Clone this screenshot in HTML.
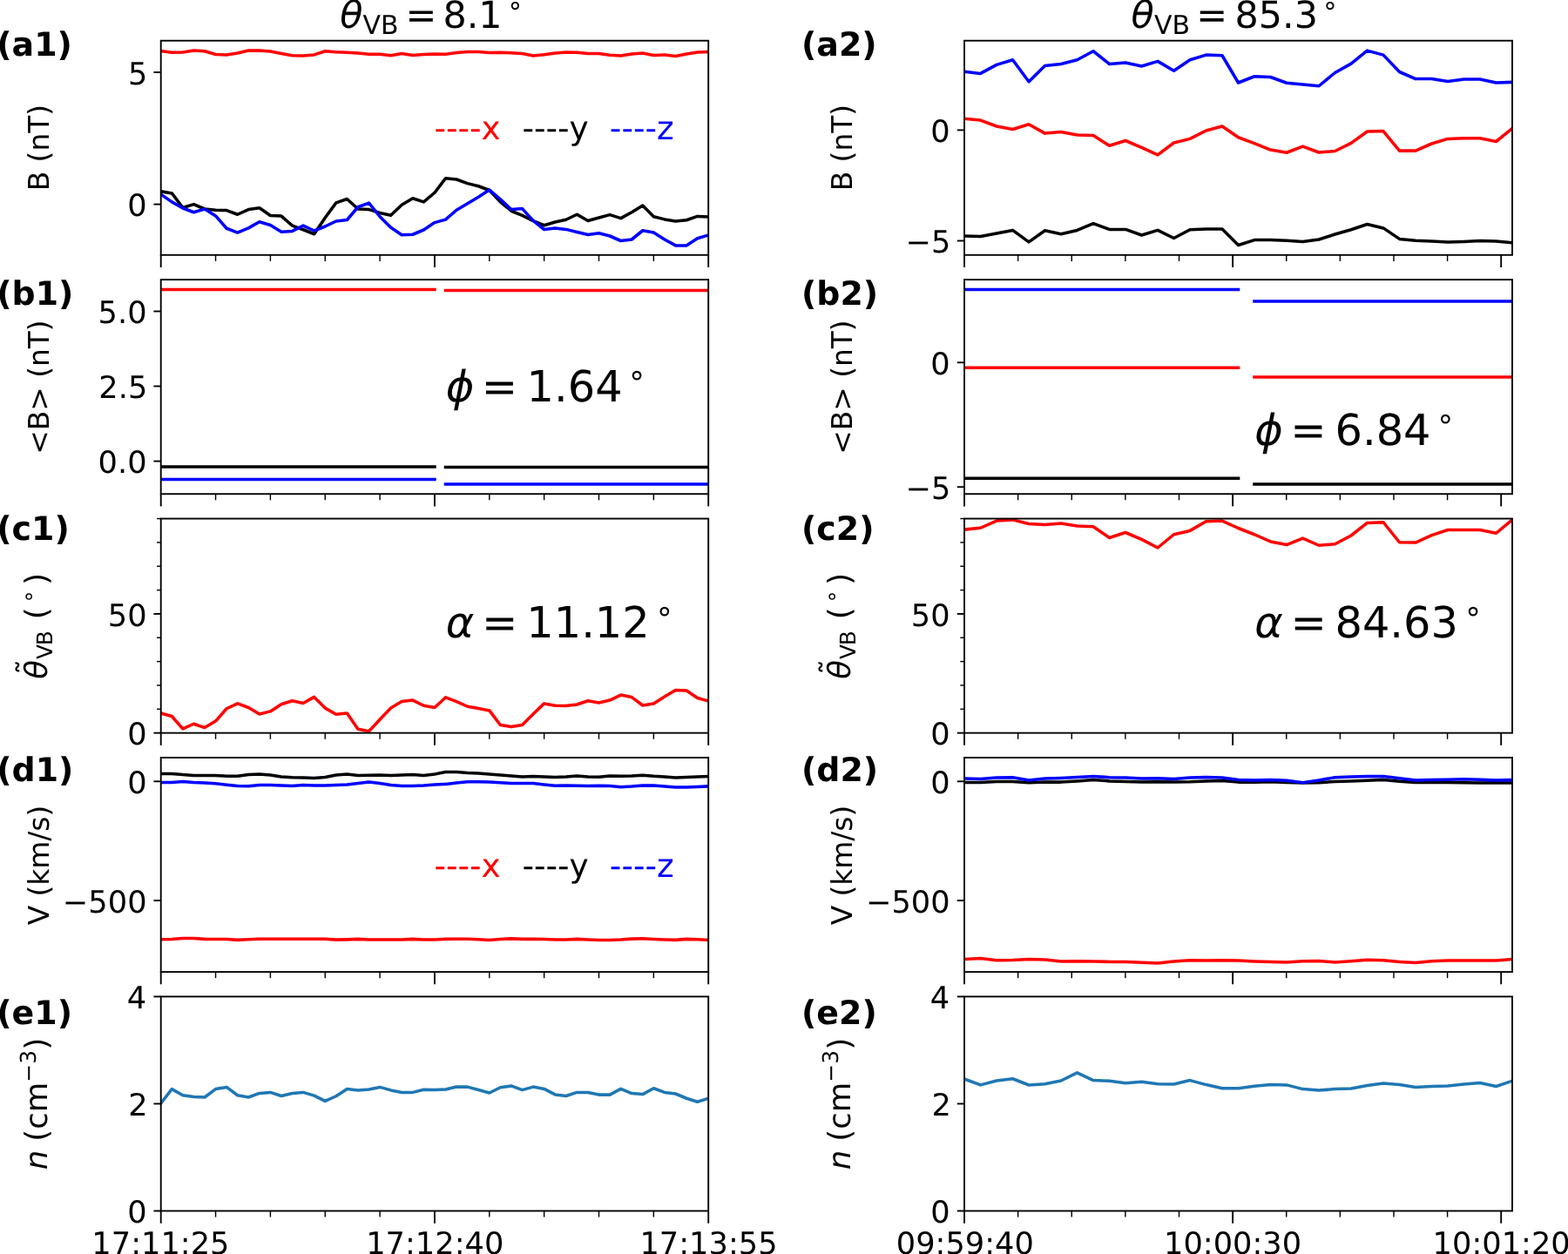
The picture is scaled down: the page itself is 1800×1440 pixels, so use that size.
<!DOCTYPE html>
<html lang="en"><head><meta charset="utf-8"><title>Figure</title>
<style>
html,body{margin:0;padding:0;background:#fff;}
body{width:1800px;height:1440px;overflow:hidden;}
svg{display:block;}
text{white-space:pre;}
</style></head>
<body>
<svg width="1800" height="1440" viewBox="0 0 1800 1440" font-family="'DejaVu Sans', 'Liberation Sans', sans-serif" text-rendering="geometricPrecision">
<rect width="1800" height="1440" fill="#fff"/>
<clipPath id="c1"><rect x="184.7" y="46.7" width="628.5" height="246.1"/></clipPath>
<g clip-path="url(#c1)" fill="none" stroke-width="3.55" stroke-linejoin="round" stroke-linecap="square">
<polyline stroke="#ff0000" points="184.7,58.5 197.27,60.25 209.84,60 222.41,58.1 234.98,58.75 247.55,62.5 260.12,62.9 272.69,61 285.26,58.1 297.83,58.1 310.4,59 322.97,61.5 335.54,63.75 348.11,64.1 360.68,62.9 373.25,58.75 385.82,59.75 398.39,60.2 410.96,61 423.53,62.25 436.1,62.25 448.67,63.75 461.24,61.5 473.81,63.4 486.38,62.5 498.95,62 511.52,62.25 524.09,60.6 536.66,59.5 549.23,59.5 561.8,60.4 574.37,60.25 586.94,60.75 599.51,61.5 612.08,64.1 624.65,62.75 637.22,61 649.79,60 662.36,60.25 674.93,61.5 687.5,61.5 700.07,63.25 712.64,64.1 725.21,61.9 737.78,61 750.35,63.4 762.92,62.9 775.49,64.4 788.06,62 800.63,60 813.2,59.6"/>
<polyline stroke="#000000" points="184.7,219.75 197.27,221.9 209.84,238.5 222.41,234.6 234.98,240 247.55,241.25 260.12,241.6 272.69,246.25 285.26,240.6 297.83,238.75 310.4,247.5 322.97,248.1 335.54,259.1 348.11,263.75 360.68,268.75 373.25,250 385.82,232.9 398.39,228.5 410.96,240 423.53,240.6 436.1,244.4 448.67,247.25 461.24,235.25 473.81,227.75 486.38,231.9 498.95,221.25 511.52,204.75 524.09,206 536.66,210.6 549.23,213.75 561.8,218.5 574.37,231.9 586.94,242.25 599.51,247.4 612.08,253.6 624.65,258.75 637.22,255 649.79,252.25 662.36,246.25 674.93,253.5 687.5,250 700.07,246.6 712.64,250.6 725.21,243.75 737.78,236 750.35,248.75 762.92,251.9 775.49,254.1 788.06,252.75 800.63,248.4 813.2,249"/>
<polyline stroke="#0000ff" points="184.7,223.1 197.27,231.9 209.84,239 222.41,243.75 234.98,240 247.55,247.9 260.12,262.25 272.69,267.1 285.26,261.9 297.83,254.75 310.4,258.5 322.97,266.25 335.54,265.4 348.11,259.1 360.68,265 373.25,260 385.82,254 398.39,252.5 410.96,237.75 423.53,233.1 436.1,248.75 448.67,261.25 461.24,269.75 473.81,269.25 486.38,264 498.95,255.6 511.52,252.1 524.09,241.25 536.66,233.75 549.23,226.25 561.8,218.1 574.37,228.75 586.94,240.6 599.51,239.6 612.08,253.4 624.65,263.5 637.22,261.9 649.79,263.4 662.36,266.5 674.93,269.4 687.5,267.75 700.07,271 712.64,276.5 725.21,275 737.78,264.75 750.35,266.9 762.92,275 775.49,281.9 788.06,281.9 800.63,273.75 813.2,270"/>
</g>
<line x1="184.7" y1="292.8" x2="184.7" y2="307" stroke="#000" stroke-width="1.89" stroke-linecap="butt"/>
<line x1="498.95" y1="292.8" x2="498.95" y2="307" stroke="#000" stroke-width="1.89" stroke-linecap="butt"/>
<line x1="813.2" y1="292.8" x2="813.2" y2="307" stroke="#000" stroke-width="1.89" stroke-linecap="butt"/>
<line x1="247.55" y1="292.8" x2="247.55" y2="299.9" stroke="#000" stroke-width="1.42" stroke-linecap="butt"/>
<line x1="310.4" y1="292.8" x2="310.4" y2="299.9" stroke="#000" stroke-width="1.42" stroke-linecap="butt"/>
<line x1="373.25" y1="292.8" x2="373.25" y2="299.9" stroke="#000" stroke-width="1.42" stroke-linecap="butt"/>
<line x1="436.1" y1="292.8" x2="436.1" y2="299.9" stroke="#000" stroke-width="1.42" stroke-linecap="butt"/>
<line x1="561.8" y1="292.8" x2="561.8" y2="299.9" stroke="#000" stroke-width="1.42" stroke-linecap="butt"/>
<line x1="624.65" y1="292.8" x2="624.65" y2="299.9" stroke="#000" stroke-width="1.42" stroke-linecap="butt"/>
<line x1="687.5" y1="292.8" x2="687.5" y2="299.9" stroke="#000" stroke-width="1.42" stroke-linecap="butt"/>
<line x1="750.35" y1="292.8" x2="750.35" y2="299.9" stroke="#000" stroke-width="1.42" stroke-linecap="butt"/>
<line x1="184.7" y1="83" x2="176.42" y2="83" stroke="#000" stroke-width="1.89" stroke-linecap="butt"/>
<line x1="184.7" y1="234.6" x2="176.42" y2="234.6" stroke="#000" stroke-width="1.89" stroke-linecap="butt"/>
<rect x="184.7" y="46.7" width="628.5" height="246.1" fill="none" stroke="#000" stroke-width="1.89"/>
<text fill="#000"><tspan font-weight="normal" font-style="normal" font-size="35.2" x="146.88" y="96.8">5</tspan></text>
<text fill="#000"><tspan font-weight="normal" font-style="normal" font-size="35.2" x="146.14" y="248.4">0</tspan></text>
<clipPath id="c2"><rect x="1107.05" y="46.7" width="628.95" height="246.1"/></clipPath>
<g clip-path="url(#c2)" fill="none" stroke-width="3.55" stroke-linejoin="round" stroke-linecap="square">
<polyline stroke="#ff0000" points="1107.05,136.25 1125.55,138.1 1144.05,145 1162.55,148.5 1181.04,142.75 1199.54,153.1 1218.04,151.5 1236.54,155 1255.04,155.6 1273.54,167.25 1292.04,161.5 1310.53,169.4 1329.03,177.9 1347.53,164 1366.03,159.4 1384.53,150 1403.03,145 1421.53,157.75 1440.02,164.6 1458.52,172.1 1477.02,175.25 1495.52,168.1 1514.02,175 1532.52,173.5 1551.01,164.4 1569.51,151 1588.01,150.6 1606.51,173.1 1625.01,173.1 1643.51,165 1662.01,159.4 1680.5,158.75 1699,158.75 1717.5,162.5 1736,147.5"/>
<polyline stroke="#000000" points="1107.05,271 1125.55,271.6 1144.05,267.9 1162.55,264.4 1181.04,277.9 1199.54,264.75 1218.04,268.75 1236.54,264.4 1255.04,256.6 1273.54,263.4 1292.04,263.4 1310.53,270 1329.03,264.4 1347.53,273.5 1366.03,263.75 1384.53,262.9 1403.03,263.1 1421.53,281.5 1440.02,275.6 1458.52,275.4 1477.02,276.25 1495.52,277.5 1514.02,275 1532.52,269 1551.01,263.75 1569.51,257.5 1588.01,261.9 1606.51,274.4 1625.01,276.25 1643.51,277.1 1662.01,278.1 1680.5,277.5 1699,276.6 1717.5,277.1 1736,278.75"/>
<polyline stroke="#0000ff" points="1107.05,82.25 1125.55,84.4 1144.05,74.4 1162.55,68.75 1181.04,93.75 1199.54,75.6 1218.04,73.5 1236.54,68.75 1255.04,58.75 1273.54,73.5 1292.04,71.9 1310.53,76 1329.03,70.4 1347.53,81.25 1366.03,68.75 1384.53,63.1 1403.03,63.75 1421.53,95 1440.02,87.75 1458.52,88.5 1477.02,95.25 1495.52,96.9 1514.02,98.75 1532.52,83.5 1551.01,73.1 1569.51,58.1 1588.01,63.1 1606.51,82.5 1625.01,90.6 1643.51,90.4 1662.01,93.5 1680.5,91 1699,91 1717.5,95 1736,94.4"/>
</g>
<line x1="1107.05" y1="292.8" x2="1107.05" y2="307" stroke="#000" stroke-width="1.89" stroke-linecap="butt"/>
<line x1="1415.12" y1="292.8" x2="1415.12" y2="307" stroke="#000" stroke-width="1.89" stroke-linecap="butt"/>
<line x1="1723.2" y1="292.8" x2="1723.2" y2="307" stroke="#000" stroke-width="1.89" stroke-linecap="butt"/>
<line x1="1168.66" y1="292.8" x2="1168.66" y2="299.9" stroke="#000" stroke-width="1.42" stroke-linecap="butt"/>
<line x1="1230.28" y1="292.8" x2="1230.28" y2="299.9" stroke="#000" stroke-width="1.42" stroke-linecap="butt"/>
<line x1="1291.89" y1="292.8" x2="1291.89" y2="299.9" stroke="#000" stroke-width="1.42" stroke-linecap="butt"/>
<line x1="1353.51" y1="292.8" x2="1353.51" y2="299.9" stroke="#000" stroke-width="1.42" stroke-linecap="butt"/>
<line x1="1476.74" y1="292.8" x2="1476.74" y2="299.9" stroke="#000" stroke-width="1.42" stroke-linecap="butt"/>
<line x1="1538.36" y1="292.8" x2="1538.36" y2="299.9" stroke="#000" stroke-width="1.42" stroke-linecap="butt"/>
<line x1="1599.97" y1="292.8" x2="1599.97" y2="299.9" stroke="#000" stroke-width="1.42" stroke-linecap="butt"/>
<line x1="1661.59" y1="292.8" x2="1661.59" y2="299.9" stroke="#000" stroke-width="1.42" stroke-linecap="butt"/>
<line x1="1107.05" y1="149.4" x2="1098.77" y2="149.4" stroke="#000" stroke-width="1.89" stroke-linecap="butt"/>
<line x1="1107.05" y1="276.5" x2="1098.77" y2="276.5" stroke="#000" stroke-width="1.89" stroke-linecap="butt"/>
<rect x="1107.05" y="46.7" width="628.95" height="246.1" fill="none" stroke="#000" stroke-width="1.89"/>
<text fill="#000"><tspan font-weight="normal" font-style="normal" font-size="35.2" x="1068.19" y="163.2">0</tspan></text>
<text fill="#000"><tspan font-weight="normal" font-style="normal" font-size="35.2" x="1039.44 1068.93" y="290.3">−5</tspan></text>
<clipPath id="c3"><rect x="184.7" y="321.13" width="628.5" height="246.1"/></clipPath>
<g clip-path="url(#c3)" fill="none" stroke-width="3.55" stroke-linejoin="round" stroke-linecap="square">
<polyline stroke="#ff0000" points="184.7,332.4 498.95,332.4"/>
<polyline stroke="#ff0000" points="511.52,333.4 813.2,333.4"/>
<polyline stroke="#000000" points="184.7,536 498.95,536"/>
<polyline stroke="#000000" points="511.52,536.4 813.2,536.4"/>
<polyline stroke="#0000ff" points="184.7,550.5 498.95,550.5"/>
<polyline stroke="#0000ff" points="511.52,556 813.2,556"/>
</g>
<line x1="184.7" y1="567.23" x2="184.7" y2="581.43" stroke="#000" stroke-width="1.89" stroke-linecap="butt"/>
<line x1="498.95" y1="567.23" x2="498.95" y2="581.43" stroke="#000" stroke-width="1.89" stroke-linecap="butt"/>
<line x1="813.2" y1="567.23" x2="813.2" y2="581.43" stroke="#000" stroke-width="1.89" stroke-linecap="butt"/>
<line x1="247.55" y1="567.23" x2="247.55" y2="574.33" stroke="#000" stroke-width="1.42" stroke-linecap="butt"/>
<line x1="310.4" y1="567.23" x2="310.4" y2="574.33" stroke="#000" stroke-width="1.42" stroke-linecap="butt"/>
<line x1="373.25" y1="567.23" x2="373.25" y2="574.33" stroke="#000" stroke-width="1.42" stroke-linecap="butt"/>
<line x1="436.1" y1="567.23" x2="436.1" y2="574.33" stroke="#000" stroke-width="1.42" stroke-linecap="butt"/>
<line x1="561.8" y1="567.23" x2="561.8" y2="574.33" stroke="#000" stroke-width="1.42" stroke-linecap="butt"/>
<line x1="624.65" y1="567.23" x2="624.65" y2="574.33" stroke="#000" stroke-width="1.42" stroke-linecap="butt"/>
<line x1="687.5" y1="567.23" x2="687.5" y2="574.33" stroke="#000" stroke-width="1.42" stroke-linecap="butt"/>
<line x1="750.35" y1="567.23" x2="750.35" y2="574.33" stroke="#000" stroke-width="1.42" stroke-linecap="butt"/>
<line x1="184.7" y1="357.5" x2="176.42" y2="357.5" stroke="#000" stroke-width="1.89" stroke-linecap="butt"/>
<line x1="184.7" y1="443.5" x2="176.42" y2="443.5" stroke="#000" stroke-width="1.89" stroke-linecap="butt"/>
<line x1="184.7" y1="529.6" x2="176.42" y2="529.6" stroke="#000" stroke-width="1.89" stroke-linecap="butt"/>
<rect x="184.7" y="321.13" width="628.5" height="246.1" fill="none" stroke="#000" stroke-width="1.89"/>
<text fill="#000"><tspan font-weight="normal" font-style="normal" font-size="35.2" x="112.56 134.95 146.14" y="371.3">5.0</tspan></text>
<text fill="#000"><tspan font-weight="normal" font-style="normal" font-size="35.2" x="113.3 135.69 146.88" y="457.3">2.5</tspan></text>
<text fill="#000"><tspan font-weight="normal" font-style="normal" font-size="35.2" x="112.56 134.95 146.14" y="543.4">0.0</tspan></text>
<clipPath id="c4"><rect x="1107.05" y="321.13" width="628.95" height="246.1"/></clipPath>
<g clip-path="url(#c4)" fill="none" stroke-width="3.55" stroke-linejoin="round" stroke-linecap="square">
<polyline stroke="#ff0000" points="1107.05,422.3 1421.53,422.3"/>
<polyline stroke="#ff0000" points="1440.02,433 1736,433"/>
<polyline stroke="#000000" points="1107.05,549.3 1421.53,549.3"/>
<polyline stroke="#000000" points="1440.02,556 1736,556"/>
<polyline stroke="#0000ff" points="1107.05,332.4 1421.53,332.4"/>
<polyline stroke="#0000ff" points="1440.02,346 1736,346"/>
</g>
<line x1="1107.05" y1="567.23" x2="1107.05" y2="581.43" stroke="#000" stroke-width="1.89" stroke-linecap="butt"/>
<line x1="1415.12" y1="567.23" x2="1415.12" y2="581.43" stroke="#000" stroke-width="1.89" stroke-linecap="butt"/>
<line x1="1723.2" y1="567.23" x2="1723.2" y2="581.43" stroke="#000" stroke-width="1.89" stroke-linecap="butt"/>
<line x1="1168.66" y1="567.23" x2="1168.66" y2="574.33" stroke="#000" stroke-width="1.42" stroke-linecap="butt"/>
<line x1="1230.28" y1="567.23" x2="1230.28" y2="574.33" stroke="#000" stroke-width="1.42" stroke-linecap="butt"/>
<line x1="1291.89" y1="567.23" x2="1291.89" y2="574.33" stroke="#000" stroke-width="1.42" stroke-linecap="butt"/>
<line x1="1353.51" y1="567.23" x2="1353.51" y2="574.33" stroke="#000" stroke-width="1.42" stroke-linecap="butt"/>
<line x1="1476.74" y1="567.23" x2="1476.74" y2="574.33" stroke="#000" stroke-width="1.42" stroke-linecap="butt"/>
<line x1="1538.36" y1="567.23" x2="1538.36" y2="574.33" stroke="#000" stroke-width="1.42" stroke-linecap="butt"/>
<line x1="1599.97" y1="567.23" x2="1599.97" y2="574.33" stroke="#000" stroke-width="1.42" stroke-linecap="butt"/>
<line x1="1661.59" y1="567.23" x2="1661.59" y2="574.33" stroke="#000" stroke-width="1.42" stroke-linecap="butt"/>
<line x1="1107.05" y1="416.3" x2="1098.77" y2="416.3" stroke="#000" stroke-width="1.89" stroke-linecap="butt"/>
<line x1="1107.05" y1="559.2" x2="1098.77" y2="559.2" stroke="#000" stroke-width="1.89" stroke-linecap="butt"/>
<rect x="1107.05" y="321.13" width="628.95" height="246.1" fill="none" stroke="#000" stroke-width="1.89"/>
<text fill="#000"><tspan font-weight="normal" font-style="normal" font-size="35.2" x="1068.19" y="430.1">0</tspan></text>
<text fill="#000"><tspan font-weight="normal" font-style="normal" font-size="35.2" x="1039.44 1068.93" y="573">−5</tspan></text>
<clipPath id="c5"><rect x="184.7" y="595.56" width="628.5" height="246.1"/></clipPath>
<g clip-path="url(#c5)" fill="none" stroke-width="3.55" stroke-linejoin="round" stroke-linecap="square">
<polyline stroke="#ff0000" points="184.7,819 197.27,822.5 209.84,836.9 222.41,831.25 234.98,835.6 247.55,828.1 260.12,813.75 272.69,807.9 285.26,812.5 297.83,820 310.4,816.9 322.97,808.75 335.54,804.75 348.11,807.5 360.68,800.4 373.25,813.1 385.82,820.25 398.39,819 410.96,837.25 423.53,839.75 436.1,826.25 448.67,813.1 461.24,805.6 473.81,804.1 486.38,810.25 498.95,812.5 511.52,800.9 524.09,805.6 536.66,811.25 549.23,813.5 561.8,815.9 574.37,832.5 586.94,834.6 599.51,832.5 612.08,820 624.65,807.9 637.22,810.25 649.79,810.6 662.36,809 674.93,804.75 687.5,806.9 700.07,804.1 712.64,798.1 725.21,800.6 737.78,810 750.35,807.9 762.92,800 775.49,792.5 788.06,793.1 800.63,801.5 813.2,805"/>
</g>
<line x1="184.7" y1="841.66" x2="184.7" y2="855.86" stroke="#000" stroke-width="1.89" stroke-linecap="butt"/>
<line x1="498.95" y1="841.66" x2="498.95" y2="855.86" stroke="#000" stroke-width="1.89" stroke-linecap="butt"/>
<line x1="813.2" y1="841.66" x2="813.2" y2="855.86" stroke="#000" stroke-width="1.89" stroke-linecap="butt"/>
<line x1="247.55" y1="841.66" x2="247.55" y2="848.76" stroke="#000" stroke-width="1.42" stroke-linecap="butt"/>
<line x1="310.4" y1="841.66" x2="310.4" y2="848.76" stroke="#000" stroke-width="1.42" stroke-linecap="butt"/>
<line x1="373.25" y1="841.66" x2="373.25" y2="848.76" stroke="#000" stroke-width="1.42" stroke-linecap="butt"/>
<line x1="436.1" y1="841.66" x2="436.1" y2="848.76" stroke="#000" stroke-width="1.42" stroke-linecap="butt"/>
<line x1="561.8" y1="841.66" x2="561.8" y2="848.76" stroke="#000" stroke-width="1.42" stroke-linecap="butt"/>
<line x1="624.65" y1="841.66" x2="624.65" y2="848.76" stroke="#000" stroke-width="1.42" stroke-linecap="butt"/>
<line x1="687.5" y1="841.66" x2="687.5" y2="848.76" stroke="#000" stroke-width="1.42" stroke-linecap="butt"/>
<line x1="750.35" y1="841.66" x2="750.35" y2="848.76" stroke="#000" stroke-width="1.42" stroke-linecap="butt"/>
<line x1="184.7" y1="704.94" x2="176.42" y2="704.94" stroke="#000" stroke-width="1.89" stroke-linecap="butt"/>
<line x1="184.7" y1="841.66" x2="176.42" y2="841.66" stroke="#000" stroke-width="1.89" stroke-linecap="butt"/>
<line x1="184.7" y1="814.32" x2="179.97" y2="814.32" stroke="#000" stroke-width="1.42" stroke-linecap="butt"/>
<line x1="184.7" y1="786.97" x2="179.97" y2="786.97" stroke="#000" stroke-width="1.42" stroke-linecap="butt"/>
<line x1="184.7" y1="759.63" x2="179.97" y2="759.63" stroke="#000" stroke-width="1.42" stroke-linecap="butt"/>
<line x1="184.7" y1="732.28" x2="179.97" y2="732.28" stroke="#000" stroke-width="1.42" stroke-linecap="butt"/>
<line x1="184.7" y1="677.59" x2="179.97" y2="677.59" stroke="#000" stroke-width="1.42" stroke-linecap="butt"/>
<line x1="184.7" y1="650.25" x2="179.97" y2="650.25" stroke="#000" stroke-width="1.42" stroke-linecap="butt"/>
<line x1="184.7" y1="622.9" x2="179.97" y2="622.9" stroke="#000" stroke-width="1.42" stroke-linecap="butt"/>
<line x1="184.7" y1="595.56" x2="179.97" y2="595.56" stroke="#000" stroke-width="1.42" stroke-linecap="butt"/>
<rect x="184.7" y="595.56" width="628.5" height="246.1" fill="none" stroke="#000" stroke-width="1.89"/>
<text fill="#000"><tspan font-weight="normal" font-style="normal" font-size="35.2" x="123.75 146.14" y="718.74">50</tspan></text>
<text fill="#000"><tspan font-weight="normal" font-style="normal" font-size="35.2" x="146.14" y="855.46">0</tspan></text>
<clipPath id="c6"><rect x="1107.05" y="595.56" width="628.95" height="246.1"/></clipPath>
<g clip-path="url(#c6)" fill="none" stroke-width="3.55" stroke-linejoin="round" stroke-linecap="square">
<polyline stroke="#ff0000" points="1107.05,608.1 1125.55,606.25 1144.05,598.1 1162.55,596.9 1181.04,601.5 1199.54,602.5 1218.04,601 1236.54,604.1 1255.04,604.75 1273.54,617.5 1292.04,611.5 1310.53,619.4 1329.03,629 1347.53,613.75 1366.03,609.4 1384.53,598.75 1403.03,598.1 1421.53,606.5 1440.02,613.75 1458.52,621.9 1477.02,625.6 1495.52,618.1 1514.02,626.25 1532.52,624.75 1551.01,615 1569.51,600.4 1588.01,599.75 1606.51,622.75 1625.01,623.1 1643.51,614.6 1662.01,608.5 1680.5,608.4 1699,608.4 1717.5,612.25 1736,596.9"/>
</g>
<line x1="1107.05" y1="841.66" x2="1107.05" y2="855.86" stroke="#000" stroke-width="1.89" stroke-linecap="butt"/>
<line x1="1415.12" y1="841.66" x2="1415.12" y2="855.86" stroke="#000" stroke-width="1.89" stroke-linecap="butt"/>
<line x1="1723.2" y1="841.66" x2="1723.2" y2="855.86" stroke="#000" stroke-width="1.89" stroke-linecap="butt"/>
<line x1="1168.66" y1="841.66" x2="1168.66" y2="848.76" stroke="#000" stroke-width="1.42" stroke-linecap="butt"/>
<line x1="1230.28" y1="841.66" x2="1230.28" y2="848.76" stroke="#000" stroke-width="1.42" stroke-linecap="butt"/>
<line x1="1291.89" y1="841.66" x2="1291.89" y2="848.76" stroke="#000" stroke-width="1.42" stroke-linecap="butt"/>
<line x1="1353.51" y1="841.66" x2="1353.51" y2="848.76" stroke="#000" stroke-width="1.42" stroke-linecap="butt"/>
<line x1="1476.74" y1="841.66" x2="1476.74" y2="848.76" stroke="#000" stroke-width="1.42" stroke-linecap="butt"/>
<line x1="1538.36" y1="841.66" x2="1538.36" y2="848.76" stroke="#000" stroke-width="1.42" stroke-linecap="butt"/>
<line x1="1599.97" y1="841.66" x2="1599.97" y2="848.76" stroke="#000" stroke-width="1.42" stroke-linecap="butt"/>
<line x1="1661.59" y1="841.66" x2="1661.59" y2="848.76" stroke="#000" stroke-width="1.42" stroke-linecap="butt"/>
<line x1="1107.05" y1="704.94" x2="1098.77" y2="704.94" stroke="#000" stroke-width="1.89" stroke-linecap="butt"/>
<line x1="1107.05" y1="841.66" x2="1098.77" y2="841.66" stroke="#000" stroke-width="1.89" stroke-linecap="butt"/>
<line x1="1107.05" y1="814.32" x2="1102.32" y2="814.32" stroke="#000" stroke-width="1.42" stroke-linecap="butt"/>
<line x1="1107.05" y1="786.97" x2="1102.32" y2="786.97" stroke="#000" stroke-width="1.42" stroke-linecap="butt"/>
<line x1="1107.05" y1="759.63" x2="1102.32" y2="759.63" stroke="#000" stroke-width="1.42" stroke-linecap="butt"/>
<line x1="1107.05" y1="732.28" x2="1102.32" y2="732.28" stroke="#000" stroke-width="1.42" stroke-linecap="butt"/>
<line x1="1107.05" y1="677.59" x2="1102.32" y2="677.59" stroke="#000" stroke-width="1.42" stroke-linecap="butt"/>
<line x1="1107.05" y1="650.25" x2="1102.32" y2="650.25" stroke="#000" stroke-width="1.42" stroke-linecap="butt"/>
<line x1="1107.05" y1="622.9" x2="1102.32" y2="622.9" stroke="#000" stroke-width="1.42" stroke-linecap="butt"/>
<line x1="1107.05" y1="595.56" x2="1102.32" y2="595.56" stroke="#000" stroke-width="1.42" stroke-linecap="butt"/>
<rect x="1107.05" y="595.56" width="628.95" height="246.1" fill="none" stroke="#000" stroke-width="1.89"/>
<text fill="#000"><tspan font-weight="normal" font-style="normal" font-size="35.2" x="1045.8 1068.19" y="718.74">50</tspan></text>
<text fill="#000"><tspan font-weight="normal" font-style="normal" font-size="35.2" x="1068.19" y="855.46">0</tspan></text>
<clipPath id="c7"><rect x="184.7" y="869.99" width="628.5" height="246.1"/></clipPath>
<g clip-path="url(#c7)" fill="none" stroke-width="3.55" stroke-linejoin="round" stroke-linecap="square">
<polyline stroke="#ff0000" points="184.7,1078.75 197.27,1078.5 209.84,1077.5 222.41,1077.5 234.98,1078.38 247.55,1078.5 260.12,1078.5 272.69,1079.38 285.26,1078.75 297.83,1078.25 310.4,1078.25 322.97,1078.25 335.54,1078.25 348.11,1078.25 360.68,1078.25 373.25,1078.25 385.82,1079.12 398.39,1078.88 410.96,1078.38 423.53,1079 436.1,1079 448.67,1079 461.24,1079 473.81,1078.38 486.38,1079 498.95,1079 511.52,1078.38 524.09,1078.25 536.66,1078.25 549.23,1078.75 561.8,1079.5 574.37,1078.5 586.94,1077.88 599.51,1078.38 612.08,1078.38 624.65,1078.5 637.22,1079 649.79,1079 662.36,1078.38 674.93,1079 687.5,1079.5 700.07,1079.5 712.64,1079 725.21,1078.12 737.78,1077.75 750.35,1078.5 762.92,1079 775.49,1079.38 788.06,1078.38 800.63,1078.75 813.2,1079.38"/>
<polyline stroke="#000000" points="184.7,888.5 197.27,888.5 209.84,889.6 222.41,890.4 234.98,890.4 247.55,890.4 260.12,891.25 272.69,891.25 285.26,889.4 297.83,889.1 310.4,890 322.97,891.9 335.54,892.75 348.11,893.1 360.68,893.4 373.25,892.5 385.82,890 398.39,889.1 410.96,890.4 423.53,890.25 436.1,890 448.67,890.6 461.24,890 473.81,889.6 486.38,890.4 498.95,889 511.52,886.5 524.09,886.6 536.66,887.5 549.23,887.9 561.8,889 574.37,890 586.94,891 599.51,891.9 612.08,891.6 624.65,892.1 637.22,892.5 649.79,891.9 662.36,891 674.93,891.9 687.5,892.25 700.07,891 712.64,891.25 725.21,891 737.78,890.25 750.35,891.25 762.92,891.9 775.49,892.9 788.06,892.5 800.63,891.9 813.2,891.6"/>
<polyline stroke="#0000ff" points="184.7,898.5 197.27,898.5 209.84,897.5 222.41,898.5 234.98,899.1 247.55,899.75 260.12,901.25 272.69,902.5 285.26,902.75 297.83,901.5 310.4,901.5 322.97,901.9 335.54,902.5 348.11,901.5 360.68,901.9 373.25,901.9 385.82,901.5 398.39,900.9 410.96,899.4 423.53,897.9 436.1,899.4 448.67,901.5 461.24,902.5 473.81,902.5 486.38,901.9 498.95,901 511.52,900.4 524.09,899 536.66,897.75 549.23,897.75 561.8,898.1 574.37,898.75 586.94,899.4 599.51,899.6 612.08,899.4 624.65,900.9 637.22,902.25 649.79,901.9 662.36,902.25 674.93,902.5 687.5,902.25 700.07,902.5 712.64,903.75 725.21,903.1 737.78,902.1 750.35,902.1 762.92,903.1 775.49,904 788.06,904.1 800.63,903.4 813.2,902.9"/>
</g>
<line x1="184.7" y1="1116.09" x2="184.7" y2="1130.29" stroke="#000" stroke-width="1.89" stroke-linecap="butt"/>
<line x1="498.95" y1="1116.09" x2="498.95" y2="1130.29" stroke="#000" stroke-width="1.89" stroke-linecap="butt"/>
<line x1="813.2" y1="1116.09" x2="813.2" y2="1130.29" stroke="#000" stroke-width="1.89" stroke-linecap="butt"/>
<line x1="247.55" y1="1116.09" x2="247.55" y2="1123.19" stroke="#000" stroke-width="1.42" stroke-linecap="butt"/>
<line x1="310.4" y1="1116.09" x2="310.4" y2="1123.19" stroke="#000" stroke-width="1.42" stroke-linecap="butt"/>
<line x1="373.25" y1="1116.09" x2="373.25" y2="1123.19" stroke="#000" stroke-width="1.42" stroke-linecap="butt"/>
<line x1="436.1" y1="1116.09" x2="436.1" y2="1123.19" stroke="#000" stroke-width="1.42" stroke-linecap="butt"/>
<line x1="561.8" y1="1116.09" x2="561.8" y2="1123.19" stroke="#000" stroke-width="1.42" stroke-linecap="butt"/>
<line x1="624.65" y1="1116.09" x2="624.65" y2="1123.19" stroke="#000" stroke-width="1.42" stroke-linecap="butt"/>
<line x1="687.5" y1="1116.09" x2="687.5" y2="1123.19" stroke="#000" stroke-width="1.42" stroke-linecap="butt"/>
<line x1="750.35" y1="1116.09" x2="750.35" y2="1123.19" stroke="#000" stroke-width="1.42" stroke-linecap="butt"/>
<line x1="184.7" y1="897.3" x2="176.42" y2="897.3" stroke="#000" stroke-width="1.89" stroke-linecap="butt"/>
<line x1="184.7" y1="1034.1" x2="176.42" y2="1034.1" stroke="#000" stroke-width="1.89" stroke-linecap="butt"/>
<rect x="184.7" y="869.99" width="628.5" height="246.1" fill="none" stroke="#000" stroke-width="1.89"/>
<text fill="#000"><tspan font-weight="normal" font-style="normal" font-size="35.2" x="146.14" y="911.1">0</tspan></text>
<text fill="#000"><tspan font-weight="normal" font-style="normal" font-size="35.2" x="71.86 101.35 123.75 146.14" y="1047.9">−500</tspan></text>
<clipPath id="c8"><rect x="1107.05" y="869.99" width="628.95" height="246.1"/></clipPath>
<g clip-path="url(#c8)" fill="none" stroke-width="3.55" stroke-linejoin="round" stroke-linecap="square">
<polyline stroke="#ff0000" points="1107.05,1101.5 1125.55,1100.6 1144.05,1102.75 1162.55,1102.5 1181.04,1101.6 1199.54,1102.1 1218.04,1104 1236.54,1103.75 1255.04,1104.1 1273.54,1104.4 1292.04,1104.5 1310.53,1105.25 1329.03,1105.9 1347.53,1104.1 1366.03,1102.75 1384.53,1103.1 1403.03,1102.75 1421.53,1103.1 1440.02,1104 1458.52,1104.5 1477.02,1105 1495.52,1103.75 1514.02,1103.5 1532.52,1105 1551.01,1103.75 1569.51,1102.25 1588.01,1102.75 1606.51,1104.6 1625.01,1105.4 1643.51,1103.75 1662.01,1103.1 1680.5,1102.9 1699,1103.1 1717.5,1102.9 1736,1101.5"/>
<polyline stroke="#000000" points="1107.05,898.5 1125.55,898.5 1144.05,897.5 1162.55,897.5 1181.04,898.75 1199.54,898.1 1218.04,898.1 1236.54,896.9 1255.04,895.4 1273.54,896.9 1292.04,897.5 1310.53,898.1 1329.03,897.75 1347.53,898.1 1366.03,897.75 1384.53,896.9 1403.03,896.5 1421.53,898.1 1440.02,898.1 1458.52,897.75 1477.02,898.5 1495.52,899 1514.02,898.75 1532.52,897.5 1551.01,896.9 1569.51,896.25 1588.01,895.6 1606.51,897.25 1625.01,898.5 1643.51,898.5 1662.01,898.5 1680.5,898.75 1699,899 1717.5,898.75 1736,899"/>
<polyline stroke="#0000ff" points="1107.05,894 1125.55,894.6 1144.05,893.1 1162.55,892.75 1181.04,896 1199.54,894.1 1218.04,893.4 1236.54,892.5 1255.04,891.5 1273.54,892.75 1292.04,893.1 1310.53,894.1 1329.03,893.75 1347.53,894.6 1366.03,893.1 1384.53,892.5 1403.03,892.9 1421.53,895.4 1440.02,896 1458.52,895.4 1477.02,896.25 1495.52,898.75 1514.02,896 1532.52,892.75 1551.01,891.9 1569.51,891.6 1588.01,891.6 1606.51,893.75 1625.01,895.9 1643.51,895.6 1662.01,895.25 1680.5,894.75 1699,895.25 1717.5,895.9 1736,895.6"/>
</g>
<line x1="1107.05" y1="1116.09" x2="1107.05" y2="1130.29" stroke="#000" stroke-width="1.89" stroke-linecap="butt"/>
<line x1="1415.12" y1="1116.09" x2="1415.12" y2="1130.29" stroke="#000" stroke-width="1.89" stroke-linecap="butt"/>
<line x1="1723.2" y1="1116.09" x2="1723.2" y2="1130.29" stroke="#000" stroke-width="1.89" stroke-linecap="butt"/>
<line x1="1168.66" y1="1116.09" x2="1168.66" y2="1123.19" stroke="#000" stroke-width="1.42" stroke-linecap="butt"/>
<line x1="1230.28" y1="1116.09" x2="1230.28" y2="1123.19" stroke="#000" stroke-width="1.42" stroke-linecap="butt"/>
<line x1="1291.89" y1="1116.09" x2="1291.89" y2="1123.19" stroke="#000" stroke-width="1.42" stroke-linecap="butt"/>
<line x1="1353.51" y1="1116.09" x2="1353.51" y2="1123.19" stroke="#000" stroke-width="1.42" stroke-linecap="butt"/>
<line x1="1476.74" y1="1116.09" x2="1476.74" y2="1123.19" stroke="#000" stroke-width="1.42" stroke-linecap="butt"/>
<line x1="1538.36" y1="1116.09" x2="1538.36" y2="1123.19" stroke="#000" stroke-width="1.42" stroke-linecap="butt"/>
<line x1="1599.97" y1="1116.09" x2="1599.97" y2="1123.19" stroke="#000" stroke-width="1.42" stroke-linecap="butt"/>
<line x1="1661.59" y1="1116.09" x2="1661.59" y2="1123.19" stroke="#000" stroke-width="1.42" stroke-linecap="butt"/>
<line x1="1107.05" y1="897.3" x2="1098.77" y2="897.3" stroke="#000" stroke-width="1.89" stroke-linecap="butt"/>
<line x1="1107.05" y1="1034.1" x2="1098.77" y2="1034.1" stroke="#000" stroke-width="1.89" stroke-linecap="butt"/>
<rect x="1107.05" y="869.99" width="628.95" height="246.1" fill="none" stroke="#000" stroke-width="1.89"/>
<text fill="#000"><tspan font-weight="normal" font-style="normal" font-size="35.2" x="1068.19" y="911.1">0</tspan></text>
<text fill="#000"><tspan font-weight="normal" font-style="normal" font-size="35.2" x="993.91 1023.4 1045.8 1068.19" y="1047.9">−500</tspan></text>
<clipPath id="c9"><rect x="184.7" y="1144.42" width="628.5" height="246.1"/></clipPath>
<g clip-path="url(#c9)" fill="none" stroke-width="3.55" stroke-linejoin="round" stroke-linecap="square">
<polyline stroke="#1f77b4" points="184.7,1266.9 197.27,1250.6 209.84,1257.75 222.41,1259.4 234.98,1260 247.55,1250.6 260.12,1248.4 272.69,1257.75 285.26,1260 297.83,1255.4 310.4,1254.4 322.97,1258.5 335.54,1255.6 348.11,1254.4 360.68,1258.1 373.25,1264.4 385.82,1258.75 398.39,1250.6 410.96,1251.9 423.53,1250.9 436.1,1248.4 448.67,1251.9 461.24,1254.6 473.81,1254.4 486.38,1251.25 498.95,1251.6 511.52,1251 524.09,1248.1 536.66,1248.1 549.23,1251.5 561.8,1255 574.37,1248.75 586.94,1246.9 599.51,1251.6 612.08,1248.1 624.65,1250.4 637.22,1256.9 649.79,1258.5 662.36,1254.4 674.93,1254.6 687.5,1257.1 700.07,1257.1 712.64,1250.4 725.21,1255.6 737.78,1256.6 750.35,1249.75 762.92,1254.4 775.49,1256 788.06,1261.25 800.63,1265.25 813.2,1261.25"/>
</g>
<line x1="184.7" y1="1390.52" x2="184.7" y2="1404.72" stroke="#000" stroke-width="1.89" stroke-linecap="butt"/>
<line x1="498.95" y1="1390.52" x2="498.95" y2="1404.72" stroke="#000" stroke-width="1.89" stroke-linecap="butt"/>
<line x1="813.2" y1="1390.52" x2="813.2" y2="1404.72" stroke="#000" stroke-width="1.89" stroke-linecap="butt"/>
<line x1="247.55" y1="1390.52" x2="247.55" y2="1397.62" stroke="#000" stroke-width="1.42" stroke-linecap="butt"/>
<line x1="310.4" y1="1390.52" x2="310.4" y2="1397.62" stroke="#000" stroke-width="1.42" stroke-linecap="butt"/>
<line x1="373.25" y1="1390.52" x2="373.25" y2="1397.62" stroke="#000" stroke-width="1.42" stroke-linecap="butt"/>
<line x1="436.1" y1="1390.52" x2="436.1" y2="1397.62" stroke="#000" stroke-width="1.42" stroke-linecap="butt"/>
<line x1="561.8" y1="1390.52" x2="561.8" y2="1397.62" stroke="#000" stroke-width="1.42" stroke-linecap="butt"/>
<line x1="624.65" y1="1390.52" x2="624.65" y2="1397.62" stroke="#000" stroke-width="1.42" stroke-linecap="butt"/>
<line x1="687.5" y1="1390.52" x2="687.5" y2="1397.62" stroke="#000" stroke-width="1.42" stroke-linecap="butt"/>
<line x1="750.35" y1="1390.52" x2="750.35" y2="1397.62" stroke="#000" stroke-width="1.42" stroke-linecap="butt"/>
<line x1="184.7" y1="1144.42" x2="176.42" y2="1144.42" stroke="#000" stroke-width="1.89" stroke-linecap="butt"/>
<line x1="184.7" y1="1267.47" x2="176.42" y2="1267.47" stroke="#000" stroke-width="1.89" stroke-linecap="butt"/>
<line x1="184.7" y1="1390.52" x2="176.42" y2="1390.52" stroke="#000" stroke-width="1.89" stroke-linecap="butt"/>
<rect x="184.7" y="1144.42" width="628.5" height="246.1" fill="none" stroke="#000" stroke-width="1.89"/>
<text fill="#000"><tspan font-weight="normal" font-style="normal" font-size="35.2" x="145.78" y="1158.22">4</tspan></text>
<text fill="#000"><tspan font-weight="normal" font-style="normal" font-size="35.2" x="147.33" y="1281.27">2</tspan></text>
<text fill="#000"><tspan font-weight="normal" font-style="normal" font-size="35.2" x="146.14" y="1404.32">0</tspan></text>
<clipPath id="c10"><rect x="1107.05" y="1144.42" width="628.95" height="246.1"/></clipPath>
<g clip-path="url(#c10)" fill="none" stroke-width="3.55" stroke-linejoin="round" stroke-linecap="square">
<polyline stroke="#1f77b4" points="1107.05,1239 1125.55,1245.9 1144.05,1241 1162.55,1238.75 1181.04,1246 1199.54,1244.75 1218.04,1241 1236.54,1231.9 1255.04,1240.6 1273.54,1241.25 1292.04,1243.75 1310.53,1242.25 1329.03,1244.75 1347.53,1245 1366.03,1240.6 1384.53,1245.6 1403.03,1249.75 1421.53,1249.75 1440.02,1247.25 1458.52,1245.4 1477.02,1245.9 1495.52,1250.6 1514.02,1252.1 1532.52,1250.6 1551.01,1250 1569.51,1246.5 1588.01,1244.1 1606.51,1245.6 1625.01,1248.4 1643.51,1247.5 1662.01,1246.9 1680.5,1245 1699,1243.5 1717.5,1247.5 1736,1241.25"/>
</g>
<line x1="1107.05" y1="1390.52" x2="1107.05" y2="1404.72" stroke="#000" stroke-width="1.89" stroke-linecap="butt"/>
<line x1="1415.12" y1="1390.52" x2="1415.12" y2="1404.72" stroke="#000" stroke-width="1.89" stroke-linecap="butt"/>
<line x1="1723.2" y1="1390.52" x2="1723.2" y2="1404.72" stroke="#000" stroke-width="1.89" stroke-linecap="butt"/>
<line x1="1168.66" y1="1390.52" x2="1168.66" y2="1397.62" stroke="#000" stroke-width="1.42" stroke-linecap="butt"/>
<line x1="1230.28" y1="1390.52" x2="1230.28" y2="1397.62" stroke="#000" stroke-width="1.42" stroke-linecap="butt"/>
<line x1="1291.89" y1="1390.52" x2="1291.89" y2="1397.62" stroke="#000" stroke-width="1.42" stroke-linecap="butt"/>
<line x1="1353.51" y1="1390.52" x2="1353.51" y2="1397.62" stroke="#000" stroke-width="1.42" stroke-linecap="butt"/>
<line x1="1476.74" y1="1390.52" x2="1476.74" y2="1397.62" stroke="#000" stroke-width="1.42" stroke-linecap="butt"/>
<line x1="1538.36" y1="1390.52" x2="1538.36" y2="1397.62" stroke="#000" stroke-width="1.42" stroke-linecap="butt"/>
<line x1="1599.97" y1="1390.52" x2="1599.97" y2="1397.62" stroke="#000" stroke-width="1.42" stroke-linecap="butt"/>
<line x1="1661.59" y1="1390.52" x2="1661.59" y2="1397.62" stroke="#000" stroke-width="1.42" stroke-linecap="butt"/>
<line x1="1107.05" y1="1144.42" x2="1098.77" y2="1144.42" stroke="#000" stroke-width="1.89" stroke-linecap="butt"/>
<line x1="1107.05" y1="1267.47" x2="1098.77" y2="1267.47" stroke="#000" stroke-width="1.89" stroke-linecap="butt"/>
<line x1="1107.05" y1="1390.52" x2="1098.77" y2="1390.52" stroke="#000" stroke-width="1.89" stroke-linecap="butt"/>
<rect x="1107.05" y="1144.42" width="628.95" height="246.1" fill="none" stroke="#000" stroke-width="1.89"/>
<text fill="#000"><tspan font-weight="normal" font-style="normal" font-size="35.2" x="1067.83" y="1158.22">4</tspan></text>
<text fill="#000"><tspan font-weight="normal" font-style="normal" font-size="35.2" x="1069.38" y="1281.27">2</tspan></text>
<text fill="#000"><tspan font-weight="normal" font-style="normal" font-size="35.2" x="1068.19" y="1404.32">0</tspan></text>
<text fill="#000"><tspan font-weight="normal" font-style="normal" font-size="35.2" x="105.36 127.75 150.15 162.01 184.4 206.8 218.66 241.05" y="1439.7">17:11:25</tspan></text>
<text fill="#000"><tspan font-weight="normal" font-style="normal" font-size="35.2" x="420.19 442.59 464.98 476.84 499.24 521.63 533.49 555.89" y="1439.7">17:12:40</tspan></text>
<text fill="#000"><tspan font-weight="normal" font-style="normal" font-size="35.2" x="734.46 756.85 779.25 791.11 813.5 835.9 847.76 870.15" y="1439.7">17:13:55</tspan></text>
<text fill="#000"><tspan font-weight="normal" font-style="normal" font-size="35.2" x="1028.76 1051.16 1073.55 1085.41 1107.81 1130.2 1142.06 1164.46" y="1439.7">09:59:40</tspan></text>
<text fill="#000"><tspan font-weight="normal" font-style="normal" font-size="35.2" x="1335.99 1358.39 1380.78 1392.64 1415.04 1437.43 1449.29 1471.69" y="1439.7">10:00:30</tspan></text>
<text fill="#000"><tspan font-weight="normal" font-style="normal" font-size="35.2" x="1644.59 1666.99 1689.38 1701.24 1723.64 1746.03 1757.89 1780.29" y="1439.7">10:01:20</tspan></text>
<text fill="#000"><tspan font-weight="bold" font-style="normal" font-size="37.9" x="-3.76 13.56 39.14 65.51" y="63.9">(a1)</tspan></text>
<text fill="#000"><tspan font-weight="bold" font-style="normal" font-size="37.9" x="-3.76 13.56 40.69 67.06" y="350.2">(b1)</tspan></text>
<text fill="#000"><tspan font-weight="bold" font-style="normal" font-size="37.9" x="-3.76 13.56 36.03 62.4" y="620.3">(c1)</tspan></text>
<text fill="#000"><tspan font-weight="bold" font-style="normal" font-size="37.9" x="-3.76 13.56 40.69 67.06" y="897.4">(d1)</tspan></text>
<text fill="#000"><tspan font-weight="bold" font-style="normal" font-size="37.9" x="-3.76 13.56 39.27 65.64" y="1175.8">(e1)</tspan></text>
<text fill="#000"><tspan font-weight="bold" font-style="normal" font-size="37.9" x="920.04 937.36 962.94 989.31" y="63.9">(a2)</tspan></text>
<text fill="#000"><tspan font-weight="bold" font-style="normal" font-size="37.9" x="920.04 937.36 964.49 990.86" y="350.2">(b2)</tspan></text>
<text fill="#000"><tspan font-weight="bold" font-style="normal" font-size="37.9" x="920.04 937.36 959.83 986.2" y="620.3">(c2)</tspan></text>
<text fill="#000"><tspan font-weight="bold" font-style="normal" font-size="37.9" x="920.04 937.36 964.49 990.86" y="897.4">(d2)</tspan></text>
<text fill="#000"><tspan font-weight="bold" font-style="normal" font-size="37.9" x="920.04 937.36 963.07 989.44" y="1175.8">(e2)</tspan></text>
<text fill="#000" transform="translate(55.9,169.45) rotate(-90)"><tspan font-weight="normal" font-style="normal" font-size="32.8" x="-49.87 -27.37 -16.94 -4.15 16.64 36.68" y="0">B (nT)</tspan></text>
<text fill="#000" transform="translate(55.9,444.18) rotate(-90)"><tspan font-weight="normal" font-style="normal" font-size="32.8" x="-77.48 -50 -27.5 -0.02 10.41 23.21 43.99 64.03" y="0">&lt;B&gt; (nT)</tspan></text>
<text fill="#000" transform="translate(55.9,994.84) rotate(-90)"><tspan font-weight="normal" font-style="normal" font-size="32.8" x="-67.49 -45.05 -34.63 -21.83 -2.83 29.12 40.17 57.26" y="0">V (km/s)</tspan></text>
<text fill="#000" transform="translate(977.7,169.45) rotate(-90)"><tspan font-weight="normal" font-style="normal" font-size="32.8" x="-49.87 -27.37 -16.94 -4.15 16.64 36.68" y="0">B (nT)</tspan></text>
<text fill="#000" transform="translate(977.7,444.18) rotate(-90)"><tspan font-weight="normal" font-style="normal" font-size="32.8" x="-77.48 -50 -27.5 -0.02 10.41 23.21 43.99 64.03" y="0">&lt;B&gt; (nT)</tspan></text>
<text fill="#000" transform="translate(977.7,994.84) rotate(-90)"><tspan font-weight="normal" font-style="normal" font-size="32.8" x="-67.49 -45.05 -34.63 -21.83 -2.83 29.12 40.17 57.26" y="0">V (km/s)</tspan></text>
<text fill="#ff0000"><tspan font-weight="normal" font-style="normal" font-size="37.5" x="498.47 512 525.53 539.06 552.59" y="159.5">----x</tspan></text>
<text fill="#000000"><tspan font-weight="normal" font-style="normal" font-size="37.5" x="599.47 613 626.53 640.06 653.59" y="159.5">----y</tspan></text>
<text fill="#0000ff"><tspan font-weight="normal" font-style="normal" font-size="37.5" x="699.87 713.4 726.93 740.46 753.99" y="159.5">----z</tspan></text>
<text fill="#ff0000"><tspan font-weight="normal" font-style="normal" font-size="37.5" x="498.47 512 525.53 539.06 552.59" y="1007">----x</tspan></text>
<text fill="#000000"><tspan font-weight="normal" font-style="normal" font-size="37.5" x="599.47 613 626.53 640.06 653.59" y="1007">----y</tspan></text>
<text fill="#0000ff"><tspan font-weight="normal" font-style="normal" font-size="37.5" x="699.87 713.4 726.93 740.46 753.99" y="1007">----z</tspan></text>
<text fill="#000"><tspan font-weight="normal" font-style="oblique" font-size="42.8" x="390.29" y="32.3">θ</tspan><tspan font-weight="normal" font-style="normal" font-size="29.96" x="416.47 436.96" y="38.7">VB</tspan><tspan font-weight="normal" font-style="normal" font-size="42.8" x="465.47" y="32.3">=</tspan><tspan font-weight="normal" font-style="normal" font-size="42.8" x="508.4 535.63 549.23" y="32.3">8.1</tspan><tspan font-weight="normal" font-style="normal" font-size="29.96" x="581.96" y="16.4">∘</tspan></text>
<text fill="#000"><tspan font-weight="normal" font-style="oblique" font-size="42.8" x="1298.49" y="32.3">θ</tspan><tspan font-weight="normal" font-style="normal" font-size="29.96" x="1324.97 1345.46" y="38.7">VB</tspan><tspan font-weight="normal" font-style="normal" font-size="42.8" x="1373.27" y="32.3">=</tspan><tspan font-weight="normal" font-style="normal" font-size="42.8" x="1417.6 1444.83 1472.06 1485.66" y="32.3">85.3</tspan><tspan font-weight="normal" font-style="normal" font-size="29.96" x="1517.46" y="16.4">∘</tspan></text>
<text fill="#000"><tspan font-weight="normal" font-style="oblique" font-size="49.4" x="511.76" y="461">ϕ</tspan><tspan font-weight="normal" font-style="normal" font-size="49.4" x="552.77" y="461">=</tspan><tspan font-weight="normal" font-style="normal" font-size="49.4" x="604.57 636 651.71 683.14" y="461">1.64</tspan><tspan font-weight="normal" font-style="normal" font-size="34.58" x="720.13" y="442.3">∘</tspan></text>
<text fill="#000"><tspan font-weight="normal" font-style="oblique" font-size="49.4" x="1440.36" y="511">ϕ</tspan><tspan font-weight="normal" font-style="normal" font-size="49.4" x="1481.17" y="511">=</tspan><tspan font-weight="normal" font-style="normal" font-size="49.4" x="1532.55 1563.98 1579.68 1611.11" y="511">6.84</tspan><tspan font-weight="normal" font-style="normal" font-size="34.58" x="1648.53" y="492.3">∘</tspan></text>
<text fill="#000"><tspan font-weight="normal" font-style="oblique" font-size="49.4" x="511.77" y="731.7">α</tspan><tspan font-weight="normal" font-style="normal" font-size="49.4" x="553.07" y="731.7">=</tspan><tspan font-weight="normal" font-style="normal" font-size="49.4" x="604.27 635.7 667.13 682.84 714.26" y="731.7">11.12</tspan><tspan font-weight="normal" font-style="normal" font-size="34.58" x="752.03" y="713">∘</tspan></text>
<text fill="#000"><tspan font-weight="normal" font-style="oblique" font-size="49.4" x="1440.37" y="731.7">α</tspan><tspan font-weight="normal" font-style="normal" font-size="49.4" x="1481.47" y="731.7">=</tspan><tspan font-weight="normal" font-style="normal" font-size="49.4" x="1532.45 1563.88 1595.31 1611.01 1642.44" y="731.7">84.63</tspan><tspan font-weight="normal" font-style="normal" font-size="34.58" x="1680.33" y="713">∘</tspan></text>
<text fill="#000" transform="translate(54.45,0) rotate(-90)"><tspan font-weight="normal" font-style="oblique" font-size="35.5" x="-779.72" y="0">θ</tspan><tspan font-weight="normal" font-style="normal" font-size="35.5" x="-774.85" y="-9.1">˜</tspan><tspan font-weight="normal" font-style="normal" font-size="24.85" x="-757.09" y="5.35">V</tspan><tspan font-weight="normal" font-style="normal" font-size="24.85" x="-741.34" y="5.35">B</tspan><tspan font-weight="normal" font-style="normal" font-size="35.5" x="-711.35" y="0">(</tspan><tspan font-weight="normal" font-style="normal" font-size="24.85" x="-692.83" y="-13.7">∘</tspan><tspan font-weight="normal" font-style="normal" font-size="35.5" x="-671.79" y="0">)</tspan></text>
<text fill="#000" transform="translate(54.3,0) rotate(-90)"><tspan font-weight="normal" font-style="oblique" font-size="35.5" x="-1343.15" y="0">n</tspan><tspan font-weight="normal" font-style="normal" font-size="35.5" x="-1310.65 -1296.8 -1277.28" y="0">(cm</tspan><tspan font-weight="normal" font-style="normal" font-size="24.85" x="-1242.63 -1221.81" y="-13.6">−3</tspan><tspan font-weight="normal" font-style="normal" font-size="35.5" x="-1205.59" y="0">)</tspan></text>
<text fill="#000" transform="translate(976.2,0) rotate(-90)"><tspan font-weight="normal" font-style="oblique" font-size="35.5" x="-779.72" y="0">θ</tspan><tspan font-weight="normal" font-style="normal" font-size="35.5" x="-774.85" y="-9.1">˜</tspan><tspan font-weight="normal" font-style="normal" font-size="24.85" x="-757.09" y="5.35">V</tspan><tspan font-weight="normal" font-style="normal" font-size="24.85" x="-741.34" y="5.35">B</tspan><tspan font-weight="normal" font-style="normal" font-size="35.5" x="-711.35" y="0">(</tspan><tspan font-weight="normal" font-style="normal" font-size="24.85" x="-692.83" y="-13.7">∘</tspan><tspan font-weight="normal" font-style="normal" font-size="35.5" x="-671.79" y="0">)</tspan></text>
<text fill="#000" transform="translate(976.05,0) rotate(-90)"><tspan font-weight="normal" font-style="oblique" font-size="35.5" x="-1343.15" y="0">n</tspan><tspan font-weight="normal" font-style="normal" font-size="35.5" x="-1310.65 -1296.8 -1277.28" y="0">(cm</tspan><tspan font-weight="normal" font-style="normal" font-size="24.85" x="-1242.63 -1221.81" y="-13.6">−3</tspan><tspan font-weight="normal" font-style="normal" font-size="35.5" x="-1205.59" y="0">)</tspan></text>
</svg>
</body></html>
